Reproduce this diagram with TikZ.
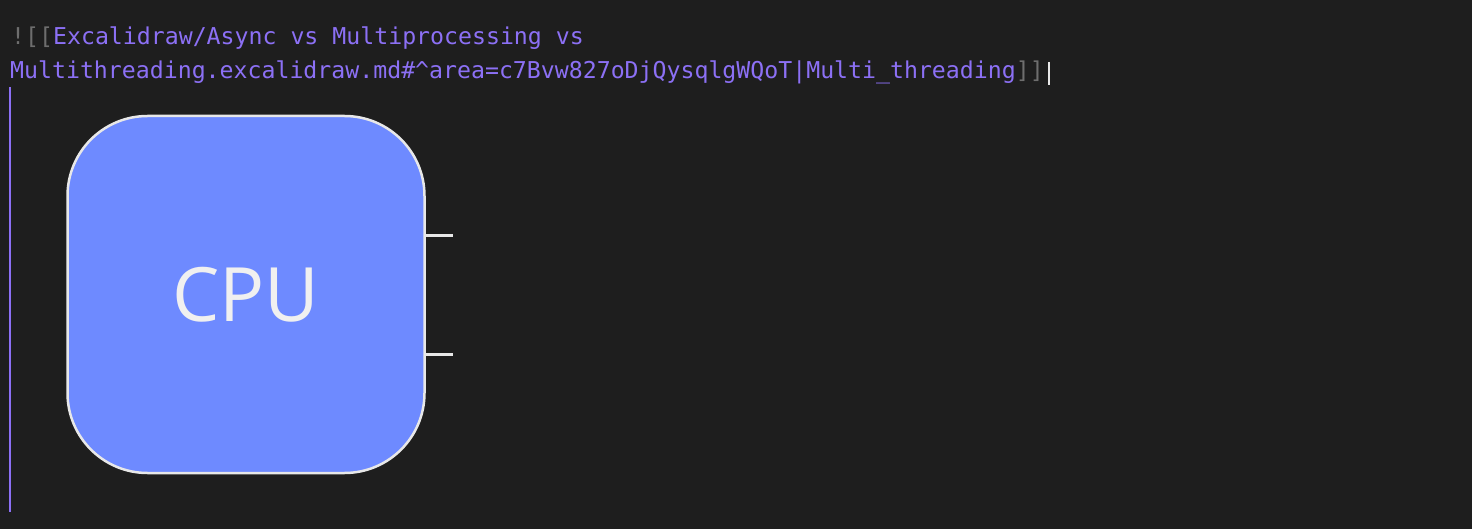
\documentclass[tikz,border=0pt]{standalone}
\usepackage{fontspec}
\setmainfont{Open Sans}
\newfontfamily\codefont{DejaVu Sans Mono}
\usetikzlibrary{positioning, calc}
\definecolor{editorbg}{RGB}{30, 30, 30}
\definecolor{linkpurple}{RGB}{140, 112, 245}
\definecolor{bracketgray}{RGB}{110, 110, 110}
\definecolor{cpublue}{RGB}{110, 138, 255}
\definecolor{strokewhite}{RGB}{232, 232, 232}
\tikzset{
  link/.style={anchor=base west, inner sep=0pt, text=linkpurple,
               font=\codefont\fontsize{23.2}{28}\selectfont},
  chip/.style={draw=strokewhite, line width=2.5pt, fill=cpublue,
               rounded corners=80pt, minimum width=357pt, minimum height=357pt,
               text=white!94!black, font=\fontsize{75}{80}\selectfont},
  pin/.style={strokewhite, line width=3pt},
}

\begin{document}
\begin{tikzpicture}[x=1pt, y=-1pt]
  \fill [editorbg] (0,0) rectangle (1472,529);
  \useasboundingbox (0,0) rectangle (1472,529);
  % embed link
  \node [link] (line1) at (11,45)
        {\textcolor{bracketgray}{![[}Excalidraw/Async vs Multiprocessing vs};
  \node [link] (line2) at (10,79)
        {Multithreading.excalidraw.md\#\textasciicircum area=c7Bvw827oDjQysqlgWQoT|Multi\_threading\textcolor{bracketgray}{]]}};
  \draw [strokewhite, line width=1.5pt] ($(line2.base east)+(5,-17)$)
        -- ($(line2.base east)+(5,6)$);
  \draw [linkpurple, line width=2pt] (10,87) -- (10,512);
  % the cpu
  \node [chip] (cpu) at (246,294.5) {\raisebox{-4pt}{CPU}};
  \coordinate (pin1) at (453,236);
  \coordinate (pin2) at (453,354);
  \draw [pin] (cpu.east |- pin1) -- (pin1);
  \draw [pin] (cpu.east |- pin2) -- (pin2);
\end{tikzpicture}
\end{document}
